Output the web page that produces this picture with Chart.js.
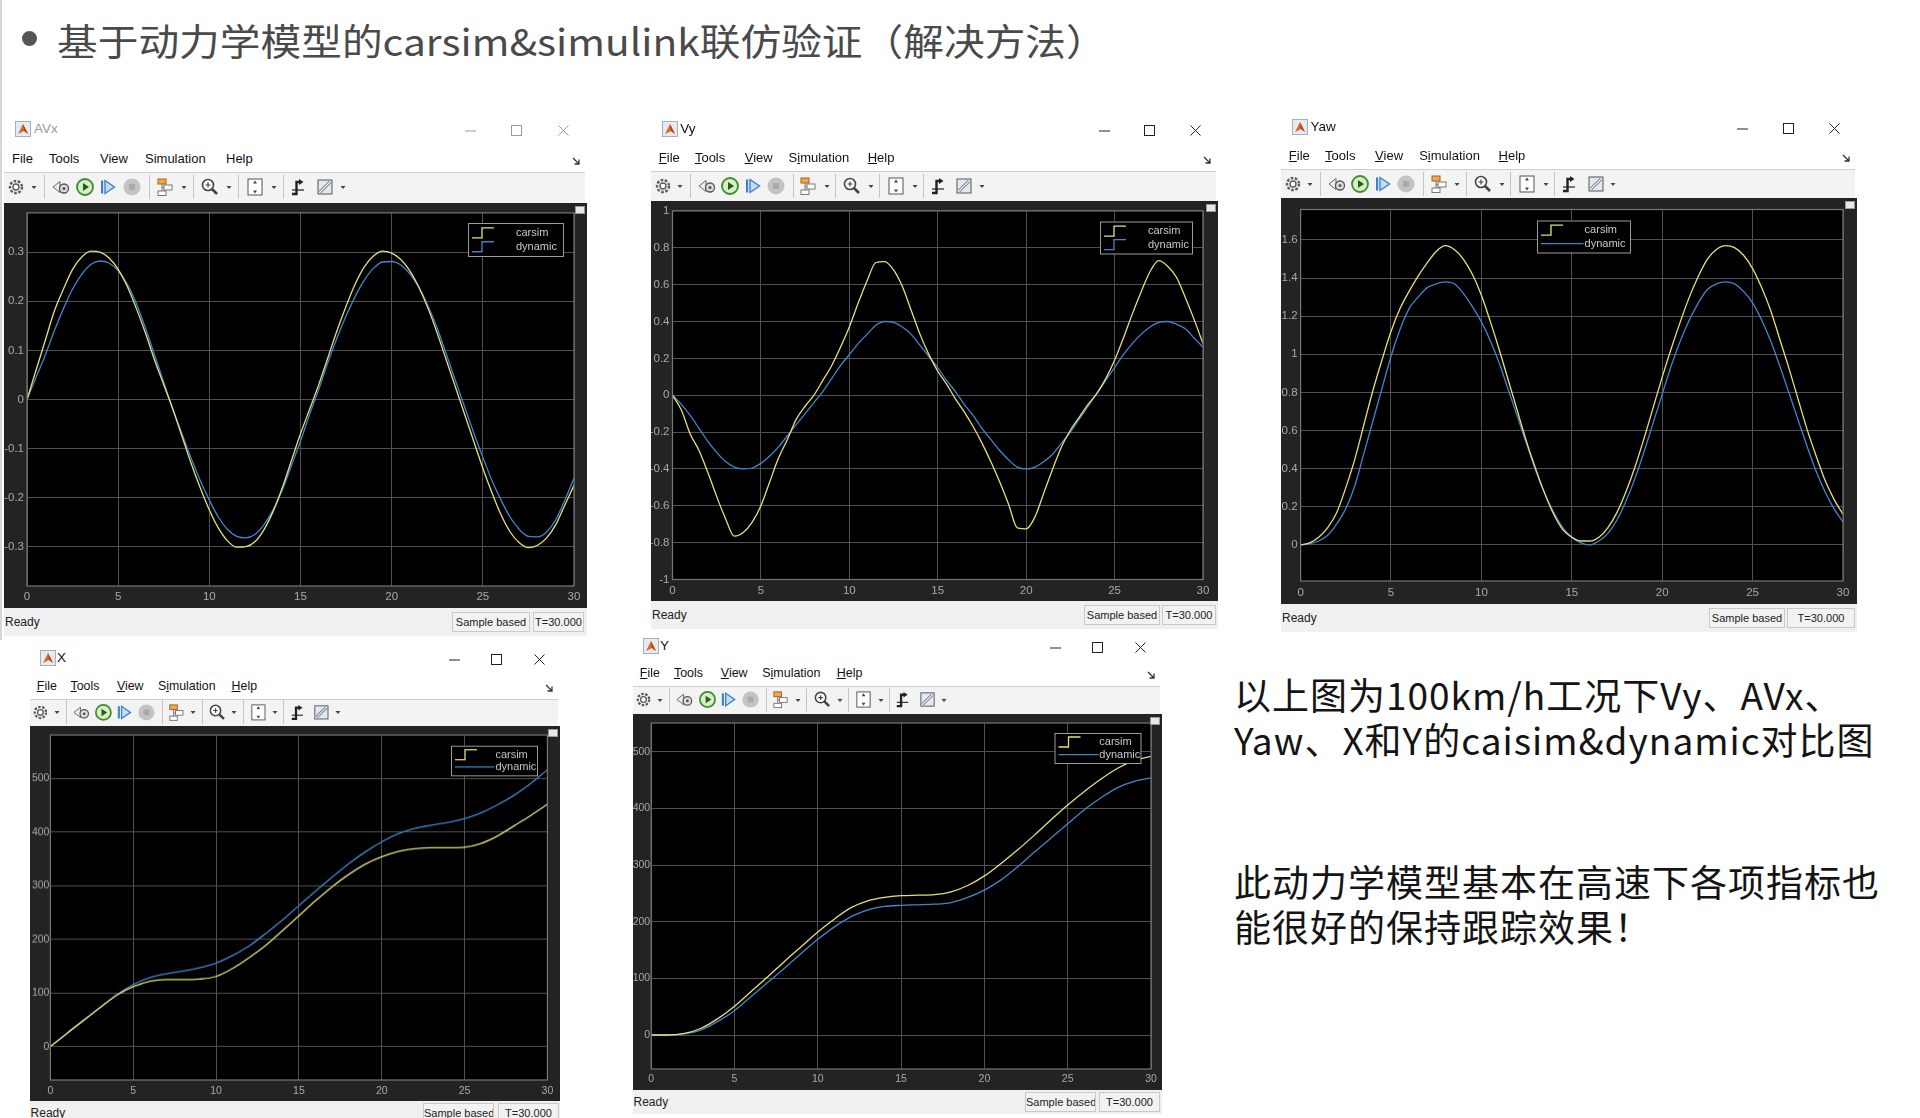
<!DOCTYPE html>
<html><head><meta charset="utf-8">
<script src="https://cdn.jsdelivr.net/npm/chart.js@4.4.0/dist/chart.umd.min.js"></script>
<style>
html,body{margin:0;padding:0;background:#fff;}
body{width:1920px;height:1118px;position:relative;overflow:hidden;font-family:"Liberation Sans",Arial,sans-serif;}
.abs{position:absolute;}
.win{position:absolute;background:#fff;}
.menu span{position:absolute;white-space:nowrap;color:#111;}
.toolbar{position:absolute;background:#f3f3f3;border-top:1px solid #cfcfcf;}
.plot{position:absolute;background:#232323;}
.status{position:absolute;background:#f0f0f0;}
.sbox{position:absolute;border:1px solid #c9c9c9;background:#f2f2f2;font-size:11px;color:#222;text-align:center;box-sizing:border-box;white-space:nowrap;overflow:hidden;}
.slide-title{position:absolute;left:57px;top:17px;font-family:"Noto Sans CJK SC",sans-serif;font-size:37px;line-height:46px;color:#4a4a4a;white-space:nowrap;transform:scaleX(1.1);transform-origin:left center;}
.bullet{position:absolute;left:22px;top:31px;width:15px;height:15px;border-radius:50%;background:#555;}
.note{position:absolute;left:1234px;font-family:"Noto Sans CJK SC",sans-serif;font-size:37px;line-height:45px;color:#141414;white-space:nowrap;letter-spacing:1px;}
</style></head><body>
<div class="abs" style="left:0;top:0;width:2px;height:640px;background:#d6d6d6"></div>
<div class="bullet"></div>
<div class="slide-title">基于动力学模型的carsim&amp;simulink联仿验证（解决方法）</div>
<div class="note" id="note1" style="top:672px">以上图为100km/h工况下Vy、AVx、<br>Yaw、X和Y的caisim&amp;dynamic对比图</div>
<div class="note" id="note2" style="top:859px">此动力学模型基本在高速下各项指标也<br>能很好的保持跟踪效果！</div>
<script>
// ---------------- DATA ----------------
const seriesNames = ['carsim', 'dynamic'];
const timeTicks = [0, 5, 10, 15, 20, 25, 30];

// time base (s) for AVx, Vy, Yaw (0.5 s readings)
const tHalf = [0,0.5,1,1.5,2,2.5,3,3.5,4,4.5,5,5.5,6,6.5,7,7.5,8,8.5,9,9.5,10,10.5,11,11.5,12,12.5,13,13.5,14,14.5,15,15.5,16,16.5,17,17.5,18,18.5,19,19.5,20,20.5,21,21.5,22,22.5,23,23.5,24,24.5,25,25.5,26,26.5,27,27.5,28,28.5,29,29.5,30];
// time base (s) for X, Y (1 s readings)
const tOne = [0,1,2,3,4,5,6,7,8,9,10,11,12,13,14,15,16,17,18,19,20,21,22,23,24,25,26,27,28,29,30];

const avxCarsim = [0,0.06,0.12,0.18,0.225,0.265,0.29,0.302,0.30,0.288,0.265,0.23,0.185,0.135,0.08,0.03,-0.02,-0.075,-0.13,-0.18,-0.225,-0.262,-0.288,-0.301,-0.30,-0.29,-0.265,-0.228,-0.18,-0.125,-0.07,-0.02,0.03,0.085,0.14,0.19,0.235,0.27,0.292,0.302,0.298,0.285,0.262,0.228,0.185,0.135,0.08,0.025,-0.03,-0.085,-0.14,-0.19,-0.235,-0.27,-0.292,-0.302,-0.297,-0.282,-0.255,-0.215,-0.175];
const avxDynamic = [0,0.045,0.09,0.14,0.185,0.225,0.255,0.275,0.282,0.278,0.262,0.235,0.195,0.145,0.09,0.035,-0.02,-0.07,-0.12,-0.165,-0.205,-0.24,-0.265,-0.279,-0.282,-0.275,-0.255,-0.225,-0.185,-0.135,-0.085,-0.03,0.02,0.075,0.125,0.17,0.21,0.243,0.267,0.28,0.281,0.274,0.256,0.228,0.19,0.145,0.092,0.038,-0.015,-0.068,-0.118,-0.165,-0.205,-0.24,-0.265,-0.279,-0.28,-0.27,-0.245,-0.205,-0.16];

const vyCarsim = [0,-0.08,-0.21,-0.30,-0.42,-0.55,-0.67,-0.765,-0.745,-0.69,-0.60,-0.47,-0.34,-0.24,-0.13,-0.06,0.0,0.08,0.16,0.26,0.37,0.50,0.62,0.72,0.725,0.68,0.59,0.46,0.33,0.22,0.13,0.06,-0.02,-0.09,-0.17,-0.26,-0.36,-0.47,-0.59,-0.72,-0.725,-0.66,-0.53,-0.40,-0.28,-0.19,-0.12,-0.05,0.01,0.09,0.19,0.31,0.44,0.56,0.67,0.73,0.70,0.64,0.53,0.41,0.28];
const vyDynamic = [0,-0.05,-0.11,-0.18,-0.25,-0.31,-0.36,-0.39,-0.40,-0.395,-0.37,-0.33,-0.28,-0.22,-0.16,-0.10,-0.04,0.02,0.09,0.16,0.22,0.28,0.33,0.38,0.40,0.395,0.37,0.33,0.27,0.21,0.15,0.08,0.02,-0.05,-0.11,-0.18,-0.24,-0.30,-0.35,-0.39,-0.40,-0.39,-0.36,-0.32,-0.26,-0.20,-0.13,-0.06,0.01,0.08,0.15,0.22,0.28,0.33,0.37,0.395,0.40,0.385,0.36,0.31,0.26];

const yawCarsim = [0,0.01,0.04,0.09,0.17,0.30,0.45,0.63,0.81,0.97,1.12,1.24,1.33,1.41,1.48,1.54,1.57,1.55,1.50,1.42,1.31,1.17,1.02,0.86,0.70,0.54,0.40,0.27,0.16,0.08,0.04,0.02,0.02,0.04,0.09,0.17,0.28,0.41,0.56,0.72,0.88,1.03,1.17,1.30,1.41,1.50,1.55,1.57,1.56,1.52,1.45,1.35,1.23,1.08,0.93,0.77,0.61,0.47,0.34,0.24,0.16];
const yawDynamic = [0,0.005,0.02,0.05,0.11,0.19,0.31,0.48,0.65,0.82,0.99,1.13,1.24,1.30,1.35,1.37,1.38,1.37,1.32,1.25,1.17,1.07,0.95,0.81,0.67,0.53,0.39,0.27,0.17,0.09,0.04,0.01,0.0,0.02,0.06,0.13,0.23,0.35,0.49,0.64,0.79,0.94,1.07,1.18,1.27,1.34,1.37,1.38,1.37,1.33,1.27,1.18,1.07,0.94,0.80,0.66,0.52,0.39,0.28,0.19,0.12];

const xCarsim = [0,25,49,73,96,112,122,125,125,126,131,146,166,189,216,244,272,298,321,340,354,364,369,371,371,372,379,393,412,431,452];
const xDynamic = [0,25,49,73,97,116,129,136,141,147,156,170,188,211,236,263,290,316,341,363,382,397,407,413,418,425,436,451,469,491,516];

const yCarsim = [0,0,3,12,29,51,77,103,130,156,182,205,225,237,243,246,247,248,253,264,281,303,327,353,380,406,430,452,471,485,492];
const yDynamic = [0,0,2,9,24,43,68,93,118,144,169,191,209,221,227,229,230,231,234,243,256,274,297,323,348,373,398,419,437,448,454];

const avxYTicks = [-0.3,-0.2,-0.1,0,0.1,0.2,0.3];
const vyYTicks = [-1,-0.8,-0.6,-0.4,-0.2,0,0.2,0.4,0.6,0.8,1];
const yawYTicks = [0,0.2,0.4,0.6,0.8,1,1.2,1.4,1.6];
const posYTicks = [0,100,200,300,400,500];

const menuItems = ['File','Tools','View','Simulation','Help'];
const menuMnemonic = [0,0,0,1,0];

// ---------------- STYLE / LAYOUT ----------------
const YELLOW = '#e7e078';
const BLUE = '#3f86cf';
const GRID = '#505050';
const FRAME = '#777777';
const TICKCOL = '#a9a9a9';
Chart.defaults.font.family = '"Liberation Sans", Arial, sans-serif';

const windows = [
 {title:'AVx', titleColor:'#9a9a9a', ctrlColor:'#9a9a9a', underline:false, left:4, right:587, top:112, titleY:129, menuY:159, tbTop:172, tbBottom:202, darkTop:203, darkBottom:608, statusBottom:636,
  axes:{l:27,r:574,t:212,b:586}, yMin:-0.38, yMax:0.38, t:tHalf, a:avxCarsim, b:avxDynamic, yTicks:avxYTicks,
  legend:{x:468,y:223,w:95,h:33,text:48,style:'step'}, s:1.0, sample:[452,530], tbox:[533,584], xPad:4, fs:11.5, yPad:3},
 {title:'Vy', titleColor:'#111', ctrlColor:'#222', underline:true, left:651, right:1218, top:112, titleY:129, menuY:157.5, tbTop:171, tbBottom:200, darkTop:200.5, darkBottom:601, statusBottom:629,
  axes:{l:672.5,r:1203,t:210,b:579}, yMin:-1, yMax:1, t:tHalf, a:vyCarsim, b:vyDynamic, yTicks:vyYTicks,
  legend:{x:1100,y:221,w:92,h:32,text:48,style:'step'}, s:0.976, sample:[1084,1160], tbox:[1162,1216], xPad:4, fs:11.5, yPad:3},
 {title:'Yaw', titleColor:'#111', ctrlColor:'#222', underline:true, left:1281, right:1857, top:110, titleY:127, menuY:156, tbTop:169, tbBottom:198, darkTop:198, darkBottom:604, statusBottom:632,
  axes:{l:1300.6,r:1843,t:209.5,b:581}, yMin:-0.19, yMax:1.76, t:tHalf, a:yawCarsim, b:yawDynamic, yTicks:yawYTicks,
  legend:{x:1537,y:220.5,w:93,h:32,text:47.6,style:'line'}, s:0.98, sample:[1709,1785], tbox:[1787,1855], xPad:5, fs:11.5, yPad:3},
 {title:'X', titleColor:'#111', ctrlColor:'#222', underline:true, left:29.6, right:560.5, top:641, titleY:658, menuY:686, tbTop:699, tbBottom:725, darkTop:726, darkBottom:1100.7, statusBottom:1125,
  axes:{l:50,r:547,t:735,b:1079}, yMin:-62, yMax:581, t:tOne, a:xCarsim, b:xDynamic, yTicks:posYTicks,
  legend:{x:450.6,y:745.7,w:86,h:29.5,text:44.4,style:'line'}, s:0.91, sample:[423,494], tbox:[498,559], xPad:5, fs:10.5, yPad:1},
 {title:'Y', titleColor:'#111', ctrlColor:'#222', underline:true, left:632.5, right:1162, top:630, titleY:646, menuY:673, tbTop:686, tbBottom:713, darkTop:714, darkBottom:1090, statusBottom:1114,
  axes:{l:650.7,r:1150.5,t:723,b:1069}, yMin:-60, yMax:551, t:tOne, a:yCarsim, b:yDynamic, yTicks:posYTicks,
  legend:{x:1054,y:733,w:86,h:30,text:44.8,style:'line'}, s:0.92, sample:[1025,1096], tbox:[1099,1160], xPad:4, fs:10.5, yPad:1}
];

const menuOffsets = [8,45,96,141,222];
const toolItems = [['gear',12],['dd',30],['sep',40],['back',57],['play',81],['step',104],['stop',128],['sep',145],['hl',161],['dd',180],['sep',189],['zoom',206],['dd',225],['sep',234],['fit',251],['dd',270],['sep',279],['trig',294],['meas',321],['dd',339]];

const ICONS = {
 gear:'<circle cx="10" cy="10" r="6" fill="none" stroke="#5a5a5a" stroke-width="2.4" stroke-dasharray="2.6 1.6"/><circle cx="10" cy="10" r="3" fill="#fff" stroke="#5a5a5a" stroke-width="1.4"/>',
 dd:'<path d="M7.5 9 L12.5 9 L10 12 Z" fill="#444"/>',
 back:'<path d="M2 10 L9 4.5 L9 15.5 Z" fill="#eee" stroke="#666"/><circle cx="13" cy="11.5" r="4.5" fill="#ddd" stroke="#555" stroke-width="1.3"/><circle cx="13" cy="11.5" r="1.5" fill="#555"/>',
 play:'<circle cx="10" cy="10" r="8" fill="#d7efc4" stroke="#3d8b2c" stroke-width="1.8"/><path d="M8 6 L14 10 L8 14 Z" fill="#2a5a1c"/>',
 step:'<rect x="3" y="3.5" width="2.2" height="13" fill="#3f7fd0"/><path d="M7 3.5 L16.5 10 L7 16.5 Z" fill="#c7ddf6" stroke="#3f7fd0" stroke-width="1.4"/>',
 stop:'<circle cx="10" cy="10" r="8.5" fill="#c3c3c3"/><rect x="7" y="7" width="6" height="6" fill="#a9a9a9"/>',
 hl:'<rect x="3" y="2" width="8" height="5" fill="#f2a64a" stroke="#a6621c"/><rect x="9" y="8" width="8" height="5" fill="#fff" stroke="#777"/><rect x="3" y="14" width="8" height="4.5" fill="#fff" stroke="#777"/><path d="M7 7 V14 M7 10.5 H9" stroke="#777"/>',
 zoom:'<circle cx="8" cy="8" r="5.5" fill="#fff" stroke="#444" stroke-width="1.6"/><path d="M12 12 L17 17" stroke="#444" stroke-width="2.6"/><path d="M5.5 8 H10.5 M8 5.5 V10.5" stroke="#444" stroke-width="1.2"/>',
 fit:'<rect x="3" y="2" width="14" height="16" fill="#fff" stroke="#555"/><path d="M10 3.5 L8 6.5 H12 Z M10 16.5 L8 13.5 H12 Z" fill="#444"/>',
 trig:'<path d="M4 17 H8.5 V5 H13" stroke="#222" stroke-width="2.4" fill="none"/><path d="M11 2 L15.5 5 L11 8 Z" fill="#222"/><path d="M4 13 H16" stroke="#222" stroke-width="1.2"/>',
 meas:'<rect x="3" y="3" width="14" height="14" fill="#dfe9f6" stroke="#555"/><path d="M5 15 L15 5" stroke="#666" stroke-width="3"/><path d="M5 15 L15 5" stroke="#fff" stroke-width="1.2"/>'
};

function svg(inner, w, h, vb) {
  return '<svg width="' + w + '" height="' + h + '" viewBox="' + (vb || ('0 0 ' + w + ' ' + h)) + '" xmlns="http://www.w3.org/2000/svg">' + inner + '</svg>';
}

function fmt(v) { return String(Number(v.toFixed(2))); }

const scopePlugin = {
  id: 'scopeFrame',
  beforeDraw(chart) {
    const {ctx, chartArea: a} = chart;
    ctx.save();
    ctx.fillStyle = '#232323';
    ctx.fillRect(0, 0, chart.width, chart.height);
    ctx.fillStyle = '#000';
    ctx.fillRect(a.left, a.top, a.right - a.left, a.bottom - a.top);
    ctx.restore();
  },
  afterDraw(chart, args, opts) {
    const {ctx, chartArea: a} = chart;
    ctx.save();
    ctx.strokeStyle = FRAME; ctx.lineWidth = 1.2;
    ctx.strokeRect(a.left, a.top, a.right - a.left, a.bottom - a.top);
    // legend
    const L = opts.legend;
    if (L) {
      ctx.fillStyle = '#000';
      ctx.fillRect(L.x, L.y, L.w, L.h);
      ctx.strokeStyle = '#9c9c9c'; ctx.lineWidth = 1;
      ctx.strokeRect(L.x + 0.5, L.y + 0.5, L.w, L.h);
      ctx.font = '11px "Liberation Sans", Arial, sans-serif';
      ctx.textBaseline = 'middle';
      chart.data.datasets.forEach((ds, i) => {
        const ry = L.y + L.h * (i === 0 ? 0.3 : 0.72);
        const x0 = L.x + 4;
        ctx.strokeStyle = ds.borderColor; ctx.lineWidth = 1.3;
        ctx.beginPath();
        if (i === 1 && L.style === 'line') {
          ctx.moveTo(x0, ry); ctx.lineTo(L.x + L.text - 1, ry);
        } else {
          ctx.moveTo(x0, ry + 5); ctx.lineTo(x0 + 10, ry + 5); ctx.lineTo(x0 + 10, ry - 5); ctx.lineTo(x0 + 22, ry - 5);
        }
        ctx.stroke();
        ctx.fillStyle = '#c9c9c9';
        ctx.fillText(ds.label, L.x + L.text, ry);
      });
    }
    ctx.restore();
  }
};

windows.forEach((w, idx) => {
  const W = w.right - w.left;
  const win = document.createElement('div');
  win.className = 'win';
  win.style.left = w.left + 'px'; win.style.top = w.top + 'px';
  win.style.width = W + 'px'; win.style.height = (w.statusBottom - w.top) + 'px';
  document.body.appendChild(win);
  const s = w.s;
  let html = '';
  // title bar
  const ty = w.titleY - w.top;
  html += '<div class="abs" style="left:' + (11 * s) + 'px;top:' + (ty - 8) + 'px">' +
    svg('<rect x="0.5" y="0.5" width="15" height="15" fill="#e4ebf2" stroke="#9fb0c2"/><path d="M3 13 L8 3 L13 13 L9 10 Z" fill="#e0661c"/><path d="M8 3 L9 10 L13 13" fill="#b8400e"/>', 16, 16) + '</div>';
  html += '<div class="abs" style="left:' + (30 * s) + 'px;top:' + (ty - 9) + 'px;font-size:13.5px;line-height:18px;color:' + w.titleColor + '">' + w.title + '</div>';
  const cc = w.ctrlColor;
  html += '<div class="abs" style="left:' + (W - 122 * s) + 'px;top:' + (ty - 6) + 'px">' + svg('<path d="M0 6 H11" stroke="' + cc + '" stroke-width="1"/>', 12, 12) + '</div>';
  html += '<div class="abs" style="left:' + (W - 76 * s) + 'px;top:' + (ty - 6) + 'px">' + svg('<rect x="0.5" y="0.5" width="10" height="10" fill="none" stroke="' + cc + '"/>', 12, 12) + '</div>';
  html += '<div class="abs" style="left:' + (W - 29 * s) + 'px;top:' + (ty - 6) + 'px">' + svg('<path d="M0.5 0.5 L10.5 10.5 M10.5 0.5 L0.5 10.5" stroke="' + cc + '" stroke-width="1"/>', 12, 12) + '</div>';
  // menu
  const my = w.menuY - w.top;
  html += '<div class="menu">';
  menuItems.forEach((m, k) => {
    let label = m;
    if (w.underline) { const p = menuMnemonic[k]; label = m.slice(0, p) + '<u>' + m[p] + '</u>' + m.slice(p + 1); }
    html += '<span style="left:' + (menuOffsets[k] * s) + 'px;top:' + (my - 9) + 'px;font-size:' + (13 * Math.min(1, s + 0.04)) + 'px;line-height:18px">' + label + '</span>';
  });
  html += '</div>';
  html += '<div class="abs" style="left:' + (W - 16) + 'px;top:' + (my - 7) + 'px">' + svg('<path d="M2 2 L8 8 M8 3.5 V8 H3.5" stroke="#333" stroke-width="1.3" fill="none"/>', 10, 10) + '</div>';
  // toolbar
  const tt = w.tbTop - w.top, tb = w.tbBottom - w.top;
  html += '<div class="toolbar" style="left:0;top:' + tt + 'px;width:' + (W - 2) + 'px;height:' + (tb - tt) + 'px"></div>';
  const cy = (tt + tb) / 2;
  toolItems.forEach(([type, off]) => {
    const cx = off * s;
    if (type === 'sep') {
      html += '<div class="abs" style="left:' + cx + 'px;top:' + (cy - 12) + 'px;width:1px;height:24px;background:#c4c4c4"></div>';
    } else {
      const sz = type === 'dd' ? 20 : 20 * Math.min(1, s + 0.03);
      html += '<div class="abs" style="left:' + (cx - sz / 2) + 'px;top:' + (cy - sz / 2) + 'px;width:' + sz + 'px;height:' + sz + 'px">' + svg(ICONS[type], sz, sz, '0 0 20 20') + '</div>';
    }
  });
  // status
  const dt = w.darkTop - w.top, db = w.darkBottom - w.top, sb = w.statusBottom - w.top;
  html += '<div class="status" style="left:0;top:' + db + 'px;width:' + W + 'px;height:' + (sb - db) + 'px"></div>';
  const sy = (db + sb) / 2;
  html += '<div class="abs" style="left:1px;top:' + (sy - 8) + 'px;font-size:12px;line-height:16px;color:#222">Ready</div>';
  html += '<div class="sbox" style="left:' + (w.sample[0] - w.left) + 'px;top:' + (sy - 10) + 'px;width:' + (w.sample[1] - w.sample[0]) + 'px;height:20px;line-height:18px">Sample based</div>';
  html += '<div class="sbox" style="left:' + (w.tbox[0] - w.left) + 'px;top:' + (sy - 10) + 'px;width:' + (w.tbox[1] - w.tbox[0]) + 'px;height:20px;line-height:18px">T=30.000</div>';
  // plot area
  html += '<div class="plot" style="left:0;top:' + dt + 'px;width:' + W + 'px;height:' + (db - dt) + 'px"><canvas id="cv' + idx + '"></canvas></div>';
  html += '<div class="abs" style="left:' + (W - 12) + 'px;top:' + (dt + 3) + 'px;width:10px;height:8px;background:#e8e8e8;border:1px solid #999;box-sizing:border-box"></div>';
  win.innerHTML = html;

  const ox = w.left, oy = w.darkTop;
  const datasets = [w.a, w.b].map((vals, k) => ({
    label: seriesNames[k],
    data: w.t.map((t, i) => ({x: t, y: vals[i]})),
    borderColor: k === 0 ? YELLOW : BLUE,
    backgroundColor: k === 0 ? YELLOW : BLUE,
    borderWidth: 1.3,
    pointRadius: 0,
    cubicInterpolationMode: 'monotone',
    fill: false
  }));
  new Chart(document.getElementById('cv' + idx), {
    type: 'line',
    data: {datasets},
    options: {
      animation: false, responsive: true, maintainAspectRatio: false,
      layout: {padding: {top: w.axes.t - w.darkTop, right: w.right - w.axes.r, left: 0, bottom: 0}},
      scales: {
        x: {type: 'linear', min: 0, max: 30,
          afterBuildTicks: sc => { sc.ticks = timeTicks.map(v => ({value: v})); },
          afterFit: sc => { sc.height = w.darkBottom - w.axes.b; },
          grid: {color: GRID, drawTicks: false, lineWidth: 1},
          border: {display: false},
          ticks: {color: TICKCOL, font: {size: w.fs}, padding: w.xPad, maxRotation: 0, autoSkip: false, callback: v => fmt(v)}},
        y: {type: 'linear', min: w.yMin, max: w.yMax,
          afterBuildTicks: sc => { sc.ticks = w.yTicks.map(v => ({value: v})); },
          afterFit: sc => { sc.width = w.axes.l - w.left; },
          grid: {color: GRID, drawTicks: false, lineWidth: 1},
          border: {display: false},
          ticks: {color: TICKCOL, font: {size: w.fs}, padding: w.yPad, autoSkip: false, callback: v => fmt(v)}}
      },
      plugins: {
        legend: {display: false}, tooltip: {enabled: false},
        scopeFrame: {legend: {x: w.legend.x - ox, y: w.legend.y - oy, w: w.legend.w, h: w.legend.h, text: w.legend.text, style: w.legend.style}}
      }
    },
    plugins: [scopePlugin]
  });
});
</script>
</body></html>
